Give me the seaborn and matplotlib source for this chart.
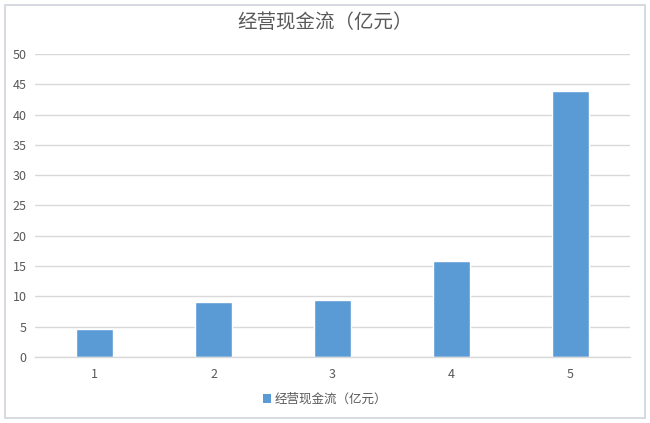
import matplotlib
matplotlib.use('Agg')
import pandas as pd
import seaborn as sns
import matplotlib.pyplot as plt
from matplotlib.patches import Rectangle, Patch

# Data
categories = ['1', '2', '3', '4', '5']
cash_flow = [4.6, 9.1, 9.4, 15.8, 43.9]
series_name = '经营现金流（亿元）'
y_ticks = [0, 5, 10, 15, 20, 25, 30, 35, 40, 45, 50]

df = pd.DataFrame({'period': categories, 'value': cash_flow})

sns.set_theme(style='white')
plt.rcParams['font.family'] = ['Noto Sans CJK SC', 'DejaVu Sans']

bar_color = '#5B9BD5'
text_color = '#595959'
grid_color = '#D9D9D9'

fig = plt.figure(figsize=(6.5, 4.23), dpi=100)
fig.patch.set_facecolor('white')

# chart area border like the spreadsheet frame
fig.add_artist(Rectangle((5 / 650, 5 / 423), 640 / 650, 413 / 423,
                         transform=fig.transFigure, fill=False,
                         edgecolor='#D0D4DC', linewidth=1.2))

ax = fig.add_axes([35 / 650, 1 - 357 / 423, 595 / 650, 303 / 423])
sns.barplot(data=df, x='period', y='value', color=bar_color, width=0.31,
            saturation=1, ax=ax)

ax.set_ylim(0, 50)
ax.set_xlim(-0.5, 4.5)
ax.set_yticks(y_ticks)
ax.set_xlabel('')
ax.set_ylabel('')
ax.yaxis.grid(True, color=grid_color, linewidth=1)
ax.set_axisbelow(True)
for side in ['top', 'right', 'left']:
    ax.spines[side].set_visible(False)
ax.spines['bottom'].set_color(grid_color)
ax.spines['bottom'].set_linewidth(1)
ax.tick_params(axis='both', length=0, labelsize=9, colors=text_color)
ax.tick_params(axis='y', pad=6)
ax.tick_params(axis='x', pad=8)

fig.text(0.5, 1 - 22 / 423, series_name, ha='center', va='center',
         fontsize=14, color=text_color)

handle = Patch(facecolor=bar_color, edgecolor='none', label=series_name)
fig.legend(handles=[handle], loc='center', bbox_to_anchor=(0.5, 1 - 399 / 423),
           frameon=False, fontsize=9, labelcolor=text_color,
           handlelength=0.7, handleheight=0.7, handletextpad=0.3)

fig.savefig('out.png', dpi=100, facecolor='white')
